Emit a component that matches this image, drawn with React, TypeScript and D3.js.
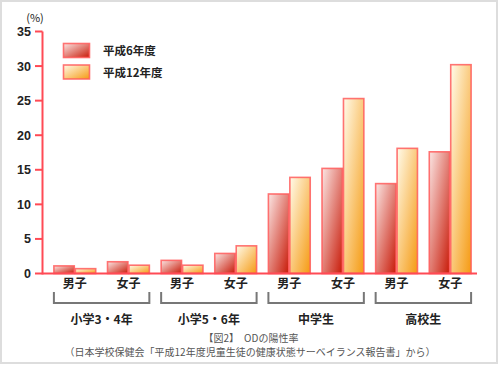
import React, { useEffect, useRef } from "react";
import * as d3 from "d3";

const groups = ["小学3・4年", "小学5・6年", "中学生", "高校生"];
const sexes = ["男子", "女子"];
const seriesNames = ["平成6年度", "平成12年度"];
// values in order: group x sex
const h6 = [1.1, 1.7, 1.9, 2.9, 11.5, 15.2, 13.0, 17.6];
const h12 = [0.7, 1.2, 1.2, 4.0, 13.9, 25.3, 18.1, 30.2];
const yTicks = [0, 5, 10, 15, 20, 25, 30, 35];

const W = 500;
const H = 365;

const App: React.FC = () => {
  const svgRef = useRef<SVGSVGElement>(null);

  useEffect(() => {
    if (!svgRef.current) return;
    const svg = d3.select(svgRef.current);
    svg.selectAll("*").remove();

    const axisColor = "#ff4a55";
    const jp = "'Noto Sans CJK JP', sans-serif";

    // frame
    svg
      .append("rect")
      .attr("x", 1)
      .attr("y", 1)
      .attr("width", W - 4)
      .attr("height", H - 3)
      .attr("fill", "white")
      .attr("stroke", "#dddddd")
      .attr("stroke-width", 2);

    const defs = svg.append("defs");
    const makeGrad = (id: string, c0: string, c1: string) => {
      const g = defs
        .append("linearGradient")
        .attr("id", id)
        .attr("x1", "0%")
        .attr("y1", "0%")
        .attr("x2", "100%")
        .attr("y2", "100%");
      g.append("stop").attr("offset", "0%").attr("stop-color", c0);
      g.append("stop").attr("offset", "100%").attr("stop-color", c1);
    };
    makeGrad("g6", "#fbe6e4", "#c81a08");
    makeGrad("g12", "#fffbea", "#f59a12");

    const cats = groups.flatMap((g) => sexes.map((s) => `${g}-${s}`));
    const x = d3.scaleBand<string>().domain(cats).range([48, 477]).paddingInner(0.22).paddingOuter(0.11);
    const xs = d3.scaleBand<number>().domain([0, 1]).range([0, x.bandwidth()]).paddingInner(0.05);
    const y = d3.scaleLinear().domain([0, 35]).range([273.5, 31.5]);

    // y axis ticks & labels
    const axisX = 42.5;
    svg
      .append("g")
      .selectAll("line")
      .data(yTicks)
      .enter()
      .append("line")
      .attr("x1", 35)
      .attr("x2", axisX)
      .attr("y1", (d) => y(d))
      .attr("y2", (d) => y(d))
      .attr("stroke", axisColor)
      .attr("stroke-width", 2);
    svg
      .append("g")
      .selectAll("text")
      .data(yTicks)
      .enter()
      .append("text")
      .attr("x", 31)
      .attr("y", (d) => y(d) + 4.5)
      .attr("text-anchor", "end")
      .style("font-family", "'Liberation Sans', Arial, sans-serif")
      .style("font-size", "12.5px")
      .style("font-weight", "bold")
      .style("fill", "#222")
      .text((d) => d);
    svg
      .append("text")
      .attr("x", 35)
      .attr("y", 22)
      .attr("text-anchor", "middle")
      .style("font-family", jp)
      .style("font-size", "11px")
      .style("fill", "#222")
      .text("(%)");

    // bars
    const rows = cats.map((c, i) => ({ c, vals: [h6[i], h12[i]] }));
    const gBars = svg.append("g");
    rows.forEach((r) => {
      r.vals.forEach((v, k) => {
        gBars
          .append("rect")
          .attr("x", (x(r.c) as number) + (xs(k) as number))
          .attr("y", y(v))
          .attr("width", xs.bandwidth())
          .attr("height", y(0) - y(v))
          .attr("fill", k === 0 ? "url(#g6)" : "url(#g12)")
          .attr("stroke", "#ff5c5c")
          .attr("stroke-opacity", 0.85)
          .attr("stroke-width", 1.6);
      });
    });

    // axis lines
    svg
      .append("line")
      .attr("x1", axisX)
      .attr("x2", axisX)
      .attr("y1", y(35))
      .attr("y2", y(0) + 1)
      .attr("stroke", axisColor)
      .attr("stroke-width", 2);
    svg
      .append("line")
      .attr("x1", axisX)
      .attr("x2", 477)
      .attr("y1", y(0))
      .attr("y2", y(0))
      .attr("stroke", axisColor)
      .attr("stroke-width", 2);

    // sex labels
    svg
      .append("g")
      .selectAll("text")
      .data(cats)
      .enter()
      .append("text")
      .attr("x", (d) => (x(d) as number) + x.bandwidth() / 2)
      .attr("y", 288)
      .attr("text-anchor", "middle")
      .style("font-family", jp)
      .style("font-size", "12px")
      .style("font-weight", "bold")
      .style("fill", "#222")
      .text((d) => d.split("-")[1]);

    // brackets and group labels
    groups.forEach((g) => {
      const x0 = x(`${g}-${sexes[0]}`) as number;
      const x1 = (x(`${g}-${sexes[1]}`) as number) + x.bandwidth();
      svg
        .append("path")
        .attr("d", `M${x0},292V303H${x1}V292`)
        .attr("fill", "none")
        .attr("stroke", "#777")
        .attr("stroke-width", 2);
      svg
        .append("text")
        .attr("x", (x0 + x1) / 2)
        .attr("y", 323.5)
        .attr("text-anchor", "middle")
        .style("font-family", jp)
        .style("font-size", "12px")
        .style("font-weight", "bold")
        .style("fill", "#222")
        .text(g);
    });

    // legend
    seriesNames.forEach((s, i) => {
      svg
        .append("rect")
        .attr("x", 63.5)
        .attr("y", 43.5 + i * 21.5)
        .attr("width", 26)
        .attr("height", 14)
        .attr("fill", i === 0 ? "url(#g6)" : "url(#g12)")
        .attr("stroke", "#ff5c5c")
        .attr("stroke-opacity", 0.85)
        .attr("stroke-width", 1.6);
      svg
        .append("text")
        .attr("x", 103)
        .attr("y", 55 + i * 21.5)
        .style("font-family", jp)
        .style("font-size", "11.5px")
        .style("font-weight", "bold")
        .style("fill", "#222")
        .text(s);
    });

    // caption
    svg
      .append("text")
      .attr("x", 251)
      .attr("y", 342)
      .attr("text-anchor", "middle")
      .style("font-family", jp)
      .style("font-size", "10px")
      .style("fill", "#555")
      .text("【図2】　ODの陽性率");
    svg
      .append("text")
      .attr("x", 250)
      .attr("y", 356)
      .attr("text-anchor", "middle")
      .style("font-family", jp)
      .style("font-size", "10px")
      .style("fill", "#555")
      .text("（日本学校保健会「平成12年度児童生徒の健康状態サーベイランス報告書」から）");
  }, []);

  return (
    <svg
      ref={svgRef}
      width={W}
      height={H}
      viewBox={`0 0 ${W} ${H}`}
      style={{ position: "absolute", left: 0, top: 0, background: "white" }}
    />
  );
};

export default App;
